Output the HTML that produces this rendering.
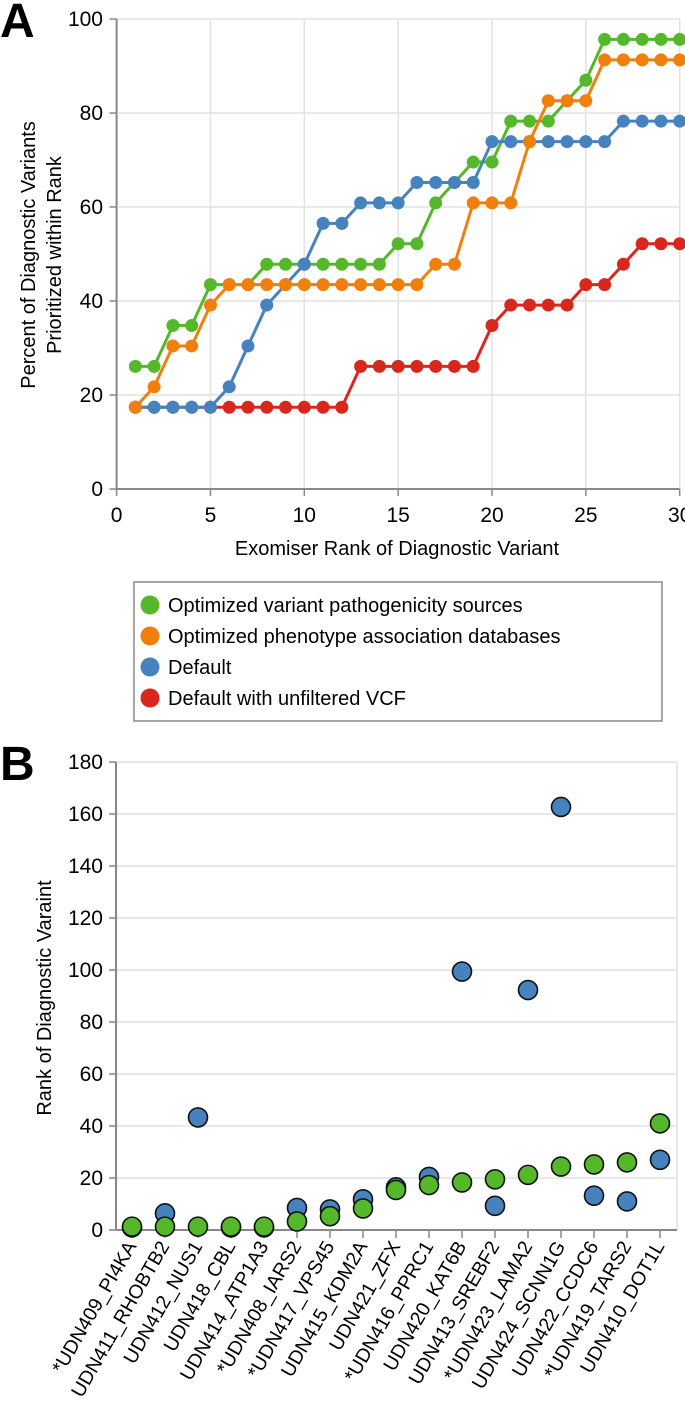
<!DOCTYPE html>
<html><head><meta charset="utf-8">
<style>
html,body{margin:0;padding:0;background:#fff;}
svg{display:block;font-family:"Liberation Sans",Arial,sans-serif;}
</style></head>
<body>
<svg id="fig" width="685" height="1410" viewBox="0 0 685 1410">
<text x="0" y="37" font-size="48" font-weight="bold">A</text>
<text x="0" y="780" font-size="48" font-weight="bold">B</text>
<g id="chartA"></g>
<g id="legend"></g>
<g id="chartB"></g>
</svg>
<script>
// ---------- Chart A data ----------
const aRanks = [1,2,3,4,5,6,7,8,9,10,11,12,13,14,15,16,17,18,19,20,21,22,23,24,25,26,27,28,29,30];
const aTotal = 23;
const aGreen = [6,6,8,8,10,10,10,11,11,11,11,11,11,11,12,12,14,15,16,16,18,18,18,19,20,22,22,22,22,22];
const aOrange = [4,5,7,7,9,10,10,10,10,10,10,10,10,10,10,10,11,11,14,14,14,17,19,19,19,21,21,21,21,21];
const aBlue = [4,4,4,4,4,5,7,9,10,11,13,13,14,14,14,15,15,15,15,17,17,17,17,17,17,17,18,18,18,18];
const aRed = [4,4,4,4,4,4,4,4,4,4,4,4,6,6,6,6,6,6,6,8,9,9,9,9,10,10,11,12,12,12];
const aXTicks = [0,5,10,15,20,25,30];
const aYTicks = [0,20,40,60,80,100];
const legendLabels = ["Optimized variant pathogenicity sources","Optimized phenotype association databases","Default","Default with unfiltered VCF"];

// ---------- Chart B data ----------
const bCats = ["*UDN409_PI4KA","UDN411_RHOBTB2","UDN412_NUS1","UDN418_CBL","UDN414_ATP1A3","*UDN408_IARS2","*UDN417_VPS45","UDN415_KDM2A","UDN421_ZFX","*UDN416_PPRC1","UDN420_KAT6B","UDN413_SREBF2","*UDN423_LAMA2","UDN424_SCNN1G","UDN422_CCDC6","*UDN419_TARS2","UDN410_DOT1L"];
const bDefault = [1,6.4,43.3,1,1,8.5,7.9,11.8,16.4,20.4,99.4,9.3,92.3,162.7,13.2,11,27];
const bOptimized = [1.3,1.3,1.3,1.3,1.3,3.3,5.3,8.3,15.4,17.3,18.3,19.5,21.2,24.4,25.2,26,41];
const bYTicks = [0,20,40,60,80,100,120,140,160,180];

const NS = "http://www.w3.org/2000/svg";
function mk(tag, attrs, parent){const e=document.createElementNS(NS,tag);for(const k in attrs)e.setAttribute(k,attrs[k]);parent.appendChild(e);return e;}
const COL = {green:"#54b82a",orange:"#f07f0c",blue:"#4682bd",red:"#d8281e"};

// ---------- Chart A ----------
const A = document.getElementById("chartA");
const ax = v => 116.6 + v*18.77;
const ay = v => 489 - v*4.7;
aXTicks.forEach(t=>{
  const g = mk("line",{x1:ax(t),x2:ax(t),y1:ay(0),y2:ay(100),stroke:"#e2e2e2","stroke-width":1.5},A);
  
  
  const tk = mk("line",{x1:ax(t),x2:ax(t),y1:ay(0),y2:ay(0)+7,stroke:"#888","stroke-width":1.5},A);
  
  
  const l = mk("text",{x:ax(t),y:522,"font-size":21,"text-anchor":"middle"},A);
  l.textContent=t;
  
  
});
aYTicks.forEach(t=>{
  const g = mk("line",{x1:ax(0),x2:ax(30),y1:ay(t),y2:ay(t),stroke:"#e2e2e2","stroke-width":1.5},A);
  
  
  const tk = mk("line",{x1:ax(0)-7,x2:ax(0),y1:ay(t),y2:ay(t),stroke:"#888","stroke-width":1.5},A);
  
  
  const l = mk("text",{x:103,y:ay(t)+7,"font-size":21,"text-anchor":"end"},A);
  l.textContent=t;
  
  
});
const axA1 = mk("line",{x1:ax(0),x2:ax(0),y1:ay(100),y2:ay(0),stroke:"#888","stroke-width":2},A);


const axA2 = mk("line",{x1:ax(0),x2:ax(30),y1:ay(0),y2:ay(0),stroke:"#888","stroke-width":2},A);


const xtA = mk("text",{x:397,y:555,"font-size":20,"text-anchor":"middle"},A);
xtA.textContent="Exomiser Rank of Diagnostic Variant";


const ytA = mk("text",{transform:"translate(35,255) rotate(-90)","font-size":20,"text-anchor":"middle"},A);
ytA.textContent="Percent of Diagnostic Variants";


const ytA2 = mk("text",{transform:"translate(61,255) rotate(-90)","font-size":20,"text-anchor":"middle"},A);
ytA2.textContent="Prioritized within Rank";



const seriesA = [["red",aRed],["green",aGreen],["blue",aBlue],["orange",aOrange]];
seriesA.forEach(([c,vals])=>{
  const g = mk("g",{},A);
  
  
  const pts = vals.map((v,i)=>ax(aRanks[i])+","+ay(v/aTotal*100)).join(" ");
  const pl = mk("polyline",{points:pts,fill:"none",stroke:COL[c],"stroke-width":3,"stroke-linejoin":"round"},g);
  
  
  vals.forEach((v,i)=>{
    const p = mk("circle",{cx:ax(aRanks[i]),cy:ay(v/aTotal*100),r:6.5,fill:COL[c]},g);
    
    
  });
});

// ---------- Legend ----------
const L = document.getElementById("legend");
const lb = mk("rect",{x:134,y:582,width:528,height:139,fill:"#fff",stroke:"#888","stroke-width":1.5},L);


["green","orange","blue","red"].forEach((c,i)=>{
  const y = 605 + i*31;
  const g = mk("g",{},L);
  
  
  mk("circle",{cx:150,cy:y,r:9.5,fill:COL[c]},g);
  const t = mk("text",{x:168,y:y+7,"font-size":20},g);
  t.textContent = legendLabels[i];
});

// ---------- Chart B ----------
const B = document.getElementById("chartB");
const bx = i => 132 + i*33;
const by = v => 1230 - v*2.6;
bYTicks.forEach(t=>{
  const g = mk("line",{x1:116,x2:677,y1:by(t),y2:by(t),stroke:"#e2e2e2","stroke-width":1.5},B);
  
  
  const tk = mk("line",{x1:109,x2:116,y1:by(t),y2:by(t),stroke:"#888","stroke-width":1.5},B);
  
  
  const l = mk("text",{x:103,y:by(t)+7,"font-size":21,"text-anchor":"end"},B);
  l.textContent=t;
  
  
});
const rb = mk("line",{x1:677,x2:677,y1:by(180),y2:by(0),stroke:"#e2e2e2","stroke-width":1.5},B);


const axB1 = mk("line",{x1:116,x2:116,y1:by(180),y2:by(0),stroke:"#888","stroke-width":2},B);


const axB2 = mk("line",{x1:116,x2:677,y1:by(0),y2:by(0),stroke:"#888","stroke-width":2},B);


const ytB = mk("text",{transform:"translate(51,998) rotate(-90)","font-size":20,"text-anchor":"middle"},B);
ytB.textContent="Rank of Diagnostic Varaint";


bCats.forEach((c,i)=>{
  const tk = mk("line",{x1:bx(i),x2:bx(i),y1:by(0),y2:by(0)+8,stroke:"#888","stroke-width":1.5},B);
  
  
  const l = mk("text",{transform:`translate(${bx(i)+5},1246) rotate(-60)`,"font-size":19.5,"text-anchor":"end"},B);
  l.textContent=c;
  
  
});
bDefault.forEach((v,i)=>{
  const p = mk("circle",{cx:bx(i),cy:by(v),r:9.5,fill:COL.blue,stroke:"#111","stroke-width":1.6},B);
  
  
});
bOptimized.forEach((v,i)=>{
  const p = mk("circle",{cx:bx(i),cy:by(v),r:9.5,fill:COL.green,stroke:"#111","stroke-width":1.6},B);
  
  
});
</script>
</body></html>
